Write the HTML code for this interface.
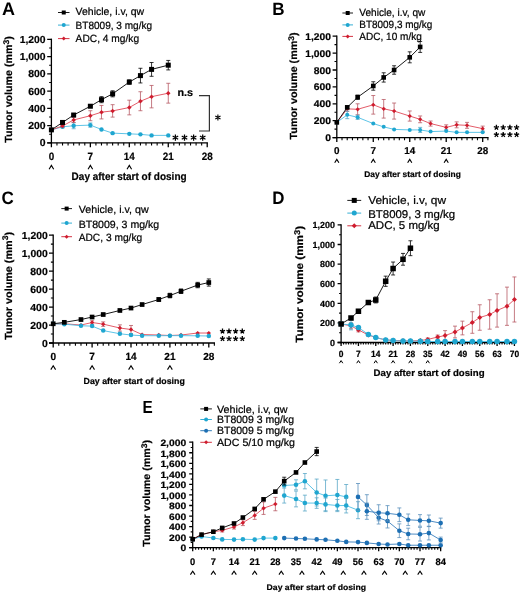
<!DOCTYPE html>
<html><head><meta charset="utf-8"><style>
html,body{margin:0;padding:0;background:#fff;width:520px;height:592px;overflow:hidden;}
svg{display:block;font-family:"Liberation Sans", sans-serif;filter:blur(0.4px);text-rendering:geometricPrecision;}
</style></head><body>
<svg width="520" height="592" viewBox="0 0 520 592" font-family='"Liberation Sans", sans-serif'>
<text x="2" y="14.6" font-size="18.3" font-weight="bold" textLength="13" lengthAdjust="spacingAndGlyphs">A</text>
<line x1="58" y1="12.5" x2="69.5" y2="12.5" stroke="#000000" stroke-width="0.9"/>
<rect x="61.75" y="10.5" width="4" height="4" fill="#000000"/>
<text x="75.6" y="15.3" font-size="10.5" textLength="68.5" lengthAdjust="spacingAndGlyphs" stroke="#000" stroke-width="0.22">Vehicle, i.v, qw</text>
<line x1="58" y1="25.1" x2="69.5" y2="25.1" stroke="#1fa6d0" stroke-width="0.9"/>
<circle cx="63.75" cy="25.1" r="2" fill="#1fa6d0"/>
<text x="75.6" y="28.5" font-size="10.5" textLength="76.5" lengthAdjust="spacingAndGlyphs" stroke="#000" stroke-width="0.22">BT8009, 3 mg/kg</text>
<line x1="58" y1="38.6" x2="69.5" y2="38.6" stroke="#cf1c2e" stroke-width="0.9"/>
<path d="M63.75 36.6L65.75 38.6L63.75 40.6L61.75 38.6Z" fill="#cf1c2e"/>
<text x="75.6" y="42.4" font-size="10.5" textLength="63.5" lengthAdjust="spacingAndGlyphs" stroke="#000" stroke-width="0.22">ADC, 4 mg/kg</text>
<line x1="51.4" y1="38.65" x2="51.4" y2="143.45" stroke="#000" stroke-width="1.3"/>
<line x1="47.2" y1="142.8" x2="207.87" y2="142.8" stroke="#000" stroke-width="1.3"/>
<path d="M47.2 142.8H51.4M47.2 125.55H51.4M47.2 108.3H51.4M47.2 91.05H51.4M47.2 73.8H51.4M47.2 56.55H51.4M47.2 39.3H51.4" stroke="#000" stroke-width="1.3"/>
<path d="M49.1 134.18H51.4M49.1 116.93H51.4M49.1 99.68H51.4M49.1 82.43H51.4M49.1 65.18H51.4M49.1 47.93H51.4M56.96 142.8V145.5M62.53 142.8V145.5M68.09 142.8V145.5M73.66 142.8V145.5M79.22 142.8V145.5M84.79 142.8V145.5M95.92 142.8V145.5M101.48 142.8V145.5M107.05 142.8V145.5M112.62 142.8V145.5M118.18 142.8V145.5M123.75 142.8V145.5M134.88 142.8V145.5M140.44 142.8V145.5M146 142.8V145.5M151.57 142.8V145.5M157.14 142.8V145.5M162.7 142.8V145.5M173.83 142.8V145.5M179.4 142.8V145.5M184.96 142.8V145.5M190.53 142.8V145.5M196.09 142.8V145.5M201.66 142.8V145.5" stroke="#000" stroke-width="1.1"/>
<path d="M51.4 142.8V147.3M90.36 142.8V147.3M129.31 142.8V147.3M168.27 142.8V147.3M207.22 142.8V147.3" stroke="#000" stroke-width="1.3"/>
<text x="45.6" y="146.4" font-size="10.2" font-weight="bold" text-anchor="end" textLength="5.8" lengthAdjust="spacingAndGlyphs" stroke="#000" stroke-width="0.2">0</text>
<text x="45.6" y="129.15" font-size="10.2" font-weight="bold" text-anchor="end" textLength="17.4" lengthAdjust="spacingAndGlyphs" stroke="#000" stroke-width="0.2">200</text>
<text x="45.6" y="111.9" font-size="10.2" font-weight="bold" text-anchor="end" textLength="17.4" lengthAdjust="spacingAndGlyphs" stroke="#000" stroke-width="0.2">400</text>
<text x="45.6" y="94.65" font-size="10.2" font-weight="bold" text-anchor="end" textLength="17.4" lengthAdjust="spacingAndGlyphs" stroke="#000" stroke-width="0.2">600</text>
<text x="45.6" y="77.4" font-size="10.2" font-weight="bold" text-anchor="end" textLength="17.4" lengthAdjust="spacingAndGlyphs" stroke="#000" stroke-width="0.2">800</text>
<text x="45.6" y="60.15" font-size="10.2" font-weight="bold" text-anchor="end" textLength="25.9" lengthAdjust="spacingAndGlyphs" stroke="#000" stroke-width="0.2">1,000</text>
<text x="45.6" y="42.9" font-size="10.2" font-weight="bold" text-anchor="end" textLength="25.9" lengthAdjust="spacingAndGlyphs" stroke="#000" stroke-width="0.2">1,200</text>
<text x="51.4" y="160.2" font-size="10.6" font-weight="bold" text-anchor="middle" textLength="5.5" lengthAdjust="spacingAndGlyphs" stroke="#000" stroke-width="0.2">0</text>
<text x="90.36" y="160.2" font-size="10.6" font-weight="bold" text-anchor="middle" textLength="5.5" lengthAdjust="spacingAndGlyphs" stroke="#000" stroke-width="0.2">7</text>
<text x="129.31" y="160.2" font-size="10.6" font-weight="bold" text-anchor="middle" textLength="11" lengthAdjust="spacingAndGlyphs" stroke="#000" stroke-width="0.2">14</text>
<text x="168.27" y="160.2" font-size="10.6" font-weight="bold" text-anchor="middle" textLength="11" lengthAdjust="spacingAndGlyphs" stroke="#000" stroke-width="0.2">21</text>
<text x="207.22" y="160.2" font-size="10.6" font-weight="bold" text-anchor="middle" textLength="11" lengthAdjust="spacingAndGlyphs" stroke="#000" stroke-width="0.2">28</text>
<polyline fill="none" stroke="#000" stroke-width="1.1" points="49.1,169.2 51.4,165.4 53.7,169.2" stroke-linejoin="miter"/>
<polyline fill="none" stroke="#000" stroke-width="1.1" points="88.06,169.2 90.36,165.4 92.66,169.2" stroke-linejoin="miter"/>
<polyline fill="none" stroke="#000" stroke-width="1.1" points="127.01,169.2 129.31,165.4 131.61,169.2" stroke-linejoin="miter"/>
<text x="71.6" y="180.3" font-size="10.8" font-weight="bold" textLength="115" lengthAdjust="spacingAndGlyphs" stroke="#000" stroke-width="0.2">Day after start of dosing</text>
<text x="12.2" y="142.7" font-size="10.3" font-weight="bold" textLength="106.5" lengthAdjust="spacingAndGlyphs" stroke="#000" stroke-width="0.2" transform="rotate(-90 12.2 142.7)">Tumor volume (mm<tspan font-size="8.24" dy="-3.4">3</tspan><tspan dy="3.4">)</tspan></text>
<polyline fill="none" stroke="#4cbde4" stroke-width="0.9" points="51.4,129.86 62.53,126.84 73.66,125.72 90.36,125.12 101.48,129.43 112.62,133.14 129.31,133.83 140.44,134.35 151.57,135.38 168.27,135.38"/>
<path d="M62.53 125.98V127.71M60.53 125.98H64.53M60.53 127.71H64.53" stroke="#5aa8c8" stroke-width="0.8" fill="none"/>
<path d="M73.66 122.7V128.74M71.66 122.7H75.66M71.66 128.74H75.66" stroke="#5aa8c8" stroke-width="0.8" fill="none"/>
<path d="M90.36 122.96V127.28M88.36 122.96H92.36M88.36 127.28H92.36" stroke="#5aa8c8" stroke-width="0.8" fill="none"/>
<circle cx="51.4" cy="129.86" r="2.2" fill="#1fa6d0"/>
<circle cx="62.53" cy="126.84" r="2.2" fill="#1fa6d0"/>
<circle cx="73.66" cy="125.72" r="2.2" fill="#1fa6d0"/>
<circle cx="90.36" cy="125.12" r="2.2" fill="#1fa6d0"/>
<circle cx="101.48" cy="129.43" r="2.2" fill="#1fa6d0"/>
<circle cx="112.62" cy="133.14" r="2.2" fill="#1fa6d0"/>
<circle cx="129.31" cy="133.83" r="2.2" fill="#1fa6d0"/>
<circle cx="140.44" cy="134.35" r="2.2" fill="#1fa6d0"/>
<circle cx="151.57" cy="135.38" r="2.2" fill="#1fa6d0"/>
<circle cx="168.27" cy="135.38" r="2.2" fill="#1fa6d0"/>
<polyline fill="none" stroke="#e04a58" stroke-width="0.9" points="51.4,129.86 62.53,125.98 73.66,119.94 90.36,115.72 101.48,112.18 112.62,110.89 129.31,107.52 140.44,101.23 151.57,96.66 168.27,93.21"/>
<path d="M62.53 125.12V126.84M60.53 125.12H64.53M60.53 126.84H64.53" stroke="#b85a64" stroke-width="0.8" fill="none"/>
<path d="M73.66 117.36V122.53M71.66 117.36H75.66M71.66 122.53H75.66" stroke="#b85a64" stroke-width="0.8" fill="none"/>
<path d="M90.36 110.72V120.72M88.36 110.72H92.36M88.36 120.72H92.36" stroke="#b85a64" stroke-width="0.8" fill="none"/>
<path d="M101.48 105.45V118.91M99.48 105.45H103.48M99.48 118.91H103.48" stroke="#b85a64" stroke-width="0.8" fill="none"/>
<path d="M112.62 104.68V117.1M110.62 104.68H114.62M110.62 117.1H114.62" stroke="#b85a64" stroke-width="0.8" fill="none"/>
<path d="M129.31 100.19V114.86M127.31 100.19H131.31M127.31 114.86H131.31" stroke="#b85a64" stroke-width="0.8" fill="none"/>
<path d="M140.44 91.74V110.72M138.44 91.74H142.44M138.44 110.72H142.44" stroke="#b85a64" stroke-width="0.8" fill="none"/>
<path d="M151.57 85.44V107.87M149.57 85.44H153.57M149.57 107.87H153.57" stroke="#b85a64" stroke-width="0.8" fill="none"/>
<path d="M168.27 83.29V103.13M166.27 83.29H170.27M166.27 103.13H170.27" stroke="#b85a64" stroke-width="0.8" fill="none"/>
<path d="M51.4 127.61L53.65 129.86L51.4 132.11L49.15 129.86Z" fill="#cf1c2e"/>
<path d="M62.53 123.73L64.78 125.98L62.53 128.23L60.28 125.98Z" fill="#cf1c2e"/>
<path d="M73.66 117.69L75.91 119.94L73.66 122.19L71.41 119.94Z" fill="#cf1c2e"/>
<path d="M90.36 113.47L92.61 115.72L90.36 117.97L88.11 115.72Z" fill="#cf1c2e"/>
<path d="M101.48 109.93L103.73 112.18L101.48 114.43L99.23 112.18Z" fill="#cf1c2e"/>
<path d="M112.62 108.64L114.87 110.89L112.62 113.14L110.37 110.89Z" fill="#cf1c2e"/>
<path d="M129.31 105.27L131.56 107.52L129.31 109.77L127.06 107.52Z" fill="#cf1c2e"/>
<path d="M140.44 98.98L142.69 101.23L140.44 103.48L138.19 101.23Z" fill="#cf1c2e"/>
<path d="M151.57 94.41L153.82 96.66L151.57 98.91L149.32 96.66Z" fill="#cf1c2e"/>
<path d="M168.27 90.96L170.52 93.21L168.27 95.46L166.02 93.21Z" fill="#cf1c2e"/>
<polyline fill="none" stroke="#000000" stroke-width="0.9" points="51.4,129.86 62.53,122.45 73.66,115.03 90.36,106.23 101.48,99.68 112.62,93.81 129.31,82.08 140.44,75.61 151.57,69.4 168.27,65.18"/>
<path d="M73.66 114.17V115.89M71.66 114.17H75.66M71.66 115.89H75.66" stroke="#000000" stroke-width="0.8" fill="none"/>
<path d="M90.36 105.37V107.09M88.36 105.37H92.36M88.36 107.09H92.36" stroke="#000000" stroke-width="0.8" fill="none"/>
<path d="M101.48 96.66V102.69M99.48 96.66H103.48M99.48 102.69H103.48" stroke="#000000" stroke-width="0.8" fill="none"/>
<path d="M112.62 90.79V96.83M110.62 90.79H114.62M110.62 96.83H114.62" stroke="#000000" stroke-width="0.8" fill="none"/>
<path d="M129.31 79.92V84.24M127.31 79.92H131.31M127.31 84.24H131.31" stroke="#000000" stroke-width="0.8" fill="none"/>
<path d="M140.44 68.28V82.94M138.44 68.28H142.44M138.44 82.94H142.44" stroke="#000000" stroke-width="0.8" fill="none"/>
<path d="M151.57 62.5V76.3M149.57 62.5H153.57M149.57 76.3H153.57" stroke="#000000" stroke-width="0.8" fill="none"/>
<path d="M168.27 60.43V69.92M166.27 60.43H170.27M166.27 69.92H170.27" stroke="#000000" stroke-width="0.8" fill="none"/>
<rect x="48.9" y="127.36" width="5" height="5" fill="#000000"/>
<rect x="60.03" y="119.95" width="5" height="5" fill="#000000"/>
<rect x="71.16" y="112.53" width="5" height="5" fill="#000000"/>
<rect x="87.86" y="103.73" width="5" height="5" fill="#000000"/>
<rect x="98.98" y="97.18" width="5" height="5" fill="#000000"/>
<rect x="110.12" y="91.31" width="5" height="5" fill="#000000"/>
<rect x="126.81" y="79.58" width="5" height="5" fill="#000000"/>
<rect x="137.94" y="73.11" width="5" height="5" fill="#000000"/>
<rect x="149.07" y="66.9" width="5" height="5" fill="#000000"/>
<rect x="165.77" y="62.68" width="5" height="5" fill="#000000"/>
<text x="177.4" y="95.8" font-size="10.6" font-weight="bold" textLength="15.6" lengthAdjust="spacingAndGlyphs" stroke="#000" stroke-width="0.2">n.s</text>
<polyline fill="none" stroke="#333" stroke-width="1.2" points="199,95.6 209.4,95.6 209.4,131 199,131"/>
<path d="M217.9 114.5V120.5M215.3 116L220.5 119M215.3 119L220.5 116" stroke="#000" stroke-width="1.1" fill="none"/>
<path d="M175.4 134.4V140.8M172.63 136L178.17 139.2M172.63 139.2L178.17 136" stroke="#000" stroke-width="1.25" fill="none"/>
<path d="M184.5 134.4V140.8M181.73 136L187.27 139.2M181.73 139.2L187.27 136" stroke="#000" stroke-width="1.25" fill="none"/>
<path d="M193.6 134.4V140.8M190.83 136L196.37 139.2M190.83 139.2L196.37 136" stroke="#000" stroke-width="1.25" fill="none"/>
<path d="M202.7 134.4V140.8M199.93 136L205.47 139.2M199.93 139.2L205.47 136" stroke="#000" stroke-width="1.25" fill="none"/>
<text x="272.2" y="14.6" font-size="17.8" font-weight="bold" textLength="12.3" lengthAdjust="spacingAndGlyphs">B</text>
<line x1="342.4" y1="13" x2="353" y2="13" stroke="#000000" stroke-width="0.9"/>
<rect x="345.7" y="11" width="4" height="4" fill="#000000"/>
<text x="359.3" y="16.2" font-size="10.5" textLength="66" lengthAdjust="spacingAndGlyphs" stroke="#000" stroke-width="0.22">Vehicle, i.v, qw</text>
<line x1="342.4" y1="24.9" x2="353" y2="24.9" stroke="#1fa6d0" stroke-width="0.9"/>
<circle cx="347.7" cy="24.9" r="2" fill="#1fa6d0"/>
<text x="359.3" y="28.3" font-size="10.5" textLength="73" lengthAdjust="spacingAndGlyphs" stroke="#000" stroke-width="0.22">BT8009,3 mg/kg</text>
<line x1="342.4" y1="36.4" x2="353" y2="36.4" stroke="#cf1c2e" stroke-width="0.9"/>
<path d="M347.7 34.4L349.7 36.4L347.7 38.4L345.7 36.4Z" fill="#cf1c2e"/>
<text x="359.3" y="40" font-size="10.5" textLength="62.5" lengthAdjust="spacingAndGlyphs" stroke="#000" stroke-width="0.22">ADC, 10 m/kg</text>
<line x1="336.8" y1="35.55" x2="336.8" y2="138.25" stroke="#000" stroke-width="1.3"/>
<line x1="332.6" y1="137.6" x2="488.54" y2="137.6" stroke="#000" stroke-width="1.3"/>
<path d="M332.6 137.6H336.8M332.6 120.7H336.8M332.6 103.8H336.8M332.6 86.9H336.8M332.6 70H336.8M332.6 53.1H336.8M332.6 36.2H336.8" stroke="#000" stroke-width="1.3"/>
<path d="M334.5 129.15H336.8M334.5 112.25H336.8M334.5 95.35H336.8M334.5 78.45H336.8M334.5 61.55H336.8M334.5 44.65H336.8M342.01 137.6V140.2M347.22 137.6V140.2M352.43 137.6V140.2M357.64 137.6V140.2M362.85 137.6V140.2M368.06 137.6V140.2M378.48 137.6V140.2M383.69 137.6V140.2M388.9 137.6V140.2M394.11 137.6V140.2M399.32 137.6V140.2M404.53 137.6V140.2M414.95 137.6V140.2M420.16 137.6V140.2M425.37 137.6V140.2M430.58 137.6V140.2M435.79 137.6V140.2M441 137.6V140.2M451.42 137.6V140.2M456.63 137.6V140.2M461.84 137.6V140.2M467.05 137.6V140.2M472.26 137.6V140.2M477.47 137.6V140.2M487.89 137.6V140.2" stroke="#000" stroke-width="1.1"/>
<path d="M336.8 137.6V141.9M373.27 137.6V141.9M409.74 137.6V141.9M446.21 137.6V141.9M482.68 137.6V141.9" stroke="#000" stroke-width="1.3"/>
<text x="331" y="141.1" font-size="9.8" font-weight="bold" text-anchor="end" textLength="5.75" lengthAdjust="spacingAndGlyphs" stroke="#000" stroke-width="0.2">0</text>
<text x="331" y="124.2" font-size="9.8" font-weight="bold" text-anchor="end" textLength="17.25" lengthAdjust="spacingAndGlyphs" stroke="#000" stroke-width="0.2">200</text>
<text x="331" y="107.3" font-size="9.8" font-weight="bold" text-anchor="end" textLength="17.25" lengthAdjust="spacingAndGlyphs" stroke="#000" stroke-width="0.2">400</text>
<text x="331" y="90.4" font-size="9.8" font-weight="bold" text-anchor="end" textLength="17.25" lengthAdjust="spacingAndGlyphs" stroke="#000" stroke-width="0.2">600</text>
<text x="331" y="73.5" font-size="9.8" font-weight="bold" text-anchor="end" textLength="17.25" lengthAdjust="spacingAndGlyphs" stroke="#000" stroke-width="0.2">800</text>
<text x="331" y="56.6" font-size="9.8" font-weight="bold" text-anchor="end" textLength="25.7" lengthAdjust="spacingAndGlyphs" stroke="#000" stroke-width="0.2">1,000</text>
<text x="331" y="39.7" font-size="9.8" font-weight="bold" text-anchor="end" textLength="25.7" lengthAdjust="spacingAndGlyphs" stroke="#000" stroke-width="0.2">1,200</text>
<text x="336.8" y="154.3" font-size="10" font-weight="bold" text-anchor="middle" textLength="5.5" lengthAdjust="spacingAndGlyphs" stroke="#000" stroke-width="0.2">0</text>
<text x="373.27" y="154.3" font-size="10" font-weight="bold" text-anchor="middle" textLength="5.5" lengthAdjust="spacingAndGlyphs" stroke="#000" stroke-width="0.2">7</text>
<text x="409.74" y="154.3" font-size="10" font-weight="bold" text-anchor="middle" textLength="11" lengthAdjust="spacingAndGlyphs" stroke="#000" stroke-width="0.2">14</text>
<text x="446.21" y="154.3" font-size="10" font-weight="bold" text-anchor="middle" textLength="11" lengthAdjust="spacingAndGlyphs" stroke="#000" stroke-width="0.2">21</text>
<text x="482.68" y="154.3" font-size="10" font-weight="bold" text-anchor="middle" textLength="11" lengthAdjust="spacingAndGlyphs" stroke="#000" stroke-width="0.2">28</text>
<polyline fill="none" stroke="#000" stroke-width="1.1" points="334.7,162.8 336.8,159.4 338.9,162.8" stroke-linejoin="miter"/>
<polyline fill="none" stroke="#000" stroke-width="1.1" points="371.17,162.8 373.27,159.4 375.37,162.8" stroke-linejoin="miter"/>
<polyline fill="none" stroke="#000" stroke-width="1.1" points="407.64,162.8 409.74,159.4 411.84,162.8" stroke-linejoin="miter"/>
<polyline fill="none" stroke="#000" stroke-width="1.1" points="444.11,162.8 446.21,159.4 448.31,162.8" stroke-linejoin="miter"/>
<text x="364.3" y="176.5" font-size="8.4" font-weight="bold" textLength="96.5" lengthAdjust="spacingAndGlyphs" stroke="#000" stroke-width="0.2">Day after start of dosing</text>
<text x="297.5" y="139.4" font-size="10.3" font-weight="bold" textLength="107" lengthAdjust="spacingAndGlyphs" stroke="#000" stroke-width="0.2" transform="rotate(-90 297.5 139.4)">Tumor volume (mm<tspan font-size="8.24" dy="-3.4">3</tspan><tspan dy="3.4">)</tspan></text>
<polyline fill="none" stroke="#e04a58" stroke-width="0.9" points="336.8,122.39 347.22,108.87 357.64,109.29 373.27,104.81 383.69,108.79 394.11,111.07 409.74,116.05 420.16,119.35 430.58,123.57 446.21,127.38 456.63,124.84 467.05,125.35 482.68,128.64"/>
<path d="M347.22 106.34V111.41M345.22 106.34H349.22M345.22 111.41H349.22" stroke="#b85a64" stroke-width="0.8" fill="none"/>
<path d="M357.64 103.8V114.78M355.64 103.8H359.64M355.64 114.78H359.64" stroke="#b85a64" stroke-width="0.8" fill="none"/>
<path d="M373.27 95.52V114.11M371.27 95.52H375.27M371.27 114.11H375.27" stroke="#b85a64" stroke-width="0.8" fill="none"/>
<path d="M383.69 99.49V118.08M381.69 99.49H385.69M381.69 118.08H385.69" stroke="#b85a64" stroke-width="0.8" fill="none"/>
<path d="M394.11 103.04V119.09M392.11 103.04H396.11M392.11 119.09H396.11" stroke="#b85a64" stroke-width="0.8" fill="none"/>
<path d="M409.74 110.98V121.12M407.74 110.98H411.74M407.74 121.12H411.74" stroke="#b85a64" stroke-width="0.8" fill="none"/>
<path d="M420.16 115.97V122.73M418.16 115.97H422.16M418.16 122.73H422.16" stroke="#b85a64" stroke-width="0.8" fill="none"/>
<path d="M430.58 121.04V126.11M428.58 121.04H432.58M428.58 126.11H432.58" stroke="#b85a64" stroke-width="0.8" fill="none"/>
<path d="M446.21 124.84V129.91M444.21 124.84H448.21M444.21 129.91H448.21" stroke="#b85a64" stroke-width="0.8" fill="none"/>
<path d="M456.63 121.88V127.8M454.63 121.88H458.63M454.63 127.8H458.63" stroke="#b85a64" stroke-width="0.8" fill="none"/>
<path d="M467.05 122.39V128.31M465.05 122.39H469.05M465.05 128.31H469.05" stroke="#b85a64" stroke-width="0.8" fill="none"/>
<path d="M482.68 126.11V131.18M480.68 126.11H484.68M480.68 131.18H484.68" stroke="#b85a64" stroke-width="0.8" fill="none"/>
<path d="M336.8 120.29L338.9 122.39L336.8 124.49L334.7 122.39Z" fill="#cf1c2e"/>
<path d="M347.22 106.77L349.32 108.87L347.22 110.97L345.12 108.87Z" fill="#cf1c2e"/>
<path d="M357.64 107.19L359.74 109.29L357.64 111.39L355.54 109.29Z" fill="#cf1c2e"/>
<path d="M373.27 102.71L375.37 104.81L373.27 106.91L371.17 104.81Z" fill="#cf1c2e"/>
<path d="M383.69 106.69L385.79 108.79L383.69 110.89L381.59 108.79Z" fill="#cf1c2e"/>
<path d="M394.11 108.97L396.21 111.07L394.11 113.17L392.01 111.07Z" fill="#cf1c2e"/>
<path d="M409.74 113.95L411.84 116.05L409.74 118.15L407.64 116.05Z" fill="#cf1c2e"/>
<path d="M420.16 117.25L422.26 119.35L420.16 121.45L418.06 119.35Z" fill="#cf1c2e"/>
<path d="M430.58 121.47L432.68 123.57L430.58 125.67L428.48 123.57Z" fill="#cf1c2e"/>
<path d="M446.21 125.28L448.31 127.38L446.21 129.48L444.11 127.38Z" fill="#cf1c2e"/>
<path d="M456.63 122.74L458.73 124.84L456.63 126.94L454.53 124.84Z" fill="#cf1c2e"/>
<path d="M467.05 123.25L469.15 125.35L467.05 127.45L464.95 125.35Z" fill="#cf1c2e"/>
<path d="M482.68 126.54L484.78 128.64L482.68 130.74L480.58 128.64Z" fill="#cf1c2e"/>
<polyline fill="none" stroke="#4cbde4" stroke-width="0.9" points="336.8,122.39 347.22,114.87 357.64,117.32 373.27,123.57 383.69,126.87 394.11,129.4 409.74,129.91 420.16,129.91 430.58,131.6 446.21,131.09 456.63,132.36 467.05,132.36 482.68,132.36"/>
<path d="M347.22 111.07V118.67M345.22 111.07H349.22M345.22 118.67H349.22" stroke="#5aa8c8" stroke-width="0.8" fill="none"/>
<path d="M357.64 115.21V119.43M355.64 115.21H359.64M355.64 119.43H359.64" stroke="#5aa8c8" stroke-width="0.8" fill="none"/>
<path d="M420.16 127.38V132.45M418.16 127.38H422.16M418.16 132.45H422.16" stroke="#5aa8c8" stroke-width="0.8" fill="none"/>
<circle cx="336.8" cy="122.39" r="2" fill="#1fa6d0"/>
<circle cx="347.22" cy="114.87" r="2" fill="#1fa6d0"/>
<circle cx="357.64" cy="117.32" r="2" fill="#1fa6d0"/>
<circle cx="373.27" cy="123.57" r="2" fill="#1fa6d0"/>
<circle cx="383.69" cy="126.87" r="2" fill="#1fa6d0"/>
<circle cx="394.11" cy="129.4" r="2" fill="#1fa6d0"/>
<circle cx="409.74" cy="129.91" r="2" fill="#1fa6d0"/>
<circle cx="420.16" cy="129.91" r="2" fill="#1fa6d0"/>
<circle cx="430.58" cy="131.6" r="2" fill="#1fa6d0"/>
<circle cx="446.21" cy="131.09" r="2" fill="#1fa6d0"/>
<circle cx="456.63" cy="132.36" r="2" fill="#1fa6d0"/>
<circle cx="467.05" cy="132.36" r="2" fill="#1fa6d0"/>
<circle cx="482.68" cy="132.36" r="2" fill="#1fa6d0"/>
<polyline fill="none" stroke="#000000" stroke-width="0.9" points="336.8,122.39 347.22,107.35 357.64,97.21 373.27,85.97 383.69,77.44 394.11,70 409.74,57.33 420.16,46.93"/>
<path d="M347.22 106.08V108.62M345.22 106.08H349.22M345.22 108.62H349.22" stroke="#000000" stroke-width="0.8" fill="none"/>
<path d="M357.64 95.1V99.32M355.64 95.1H359.64M355.64 99.32H359.64" stroke="#000000" stroke-width="0.8" fill="none"/>
<path d="M373.27 81.75V90.2M371.27 81.75H375.27M371.27 90.2H375.27" stroke="#000000" stroke-width="0.8" fill="none"/>
<path d="M383.69 72.79V82.08M381.69 72.79H385.69M381.69 82.08H385.69" stroke="#000000" stroke-width="0.8" fill="none"/>
<path d="M394.11 65.78V74.22M392.11 65.78H396.11M392.11 74.22H396.11" stroke="#000000" stroke-width="0.8" fill="none"/>
<path d="M409.74 51.83V62.82M407.74 51.83H411.74M407.74 62.82H411.74" stroke="#000000" stroke-width="0.8" fill="none"/>
<path d="M420.16 41.44V52.42M418.16 41.44H422.16M418.16 52.42H422.16" stroke="#000000" stroke-width="0.8" fill="none"/>
<rect x="334.5" y="120.09" width="4.6" height="4.6" fill="#000000"/>
<rect x="344.92" y="105.05" width="4.6" height="4.6" fill="#000000"/>
<rect x="355.34" y="94.91" width="4.6" height="4.6" fill="#000000"/>
<rect x="370.97" y="83.67" width="4.6" height="4.6" fill="#000000"/>
<rect x="381.39" y="75.14" width="4.6" height="4.6" fill="#000000"/>
<rect x="391.81" y="67.7" width="4.6" height="4.6" fill="#000000"/>
<rect x="407.44" y="55.03" width="4.6" height="4.6" fill="#000000"/>
<rect x="417.86" y="44.63" width="4.6" height="4.6" fill="#000000"/>
<path d="M496.4 127.5L496.4 124.8M496.4 127.5L498.97 126.67M496.4 127.5L497.99 129.68M496.4 127.5L494.81 129.68M496.4 127.5L493.83 126.67" stroke="#000" stroke-width="1.3" fill="none" stroke-linecap="butt"/>
<path d="M503.2 127.5L503.2 124.8M503.2 127.5L505.77 126.67M503.2 127.5L504.79 129.68M503.2 127.5L501.61 129.68M503.2 127.5L500.63 126.67" stroke="#000" stroke-width="1.3" fill="none" stroke-linecap="butt"/>
<path d="M509.9 127.5L509.9 124.8M509.9 127.5L512.47 126.67M509.9 127.5L511.49 129.68M509.9 127.5L508.31 129.68M509.9 127.5L507.33 126.67" stroke="#000" stroke-width="1.3" fill="none" stroke-linecap="butt"/>
<path d="M516.6 127.5L516.6 124.8M516.6 127.5L519.17 126.67M516.6 127.5L518.19 129.68M516.6 127.5L515.01 129.68M516.6 127.5L514.03 126.67" stroke="#000" stroke-width="1.3" fill="none" stroke-linecap="butt"/>
<path d="M496.4 134.7L496.4 132M496.4 134.7L498.97 133.87M496.4 134.7L497.99 136.88M496.4 134.7L494.81 136.88M496.4 134.7L493.83 133.87" stroke="#000" stroke-width="1.3" fill="none" stroke-linecap="butt"/>
<path d="M503.2 134.7L503.2 132M503.2 134.7L505.77 133.87M503.2 134.7L504.79 136.88M503.2 134.7L501.61 136.88M503.2 134.7L500.63 133.87" stroke="#000" stroke-width="1.3" fill="none" stroke-linecap="butt"/>
<path d="M509.9 134.7L509.9 132M509.9 134.7L512.47 133.87M509.9 134.7L511.49 136.88M509.9 134.7L508.31 136.88M509.9 134.7L507.33 133.87" stroke="#000" stroke-width="1.3" fill="none" stroke-linecap="butt"/>
<path d="M516.6 134.7L516.6 132M516.6 134.7L519.17 133.87M516.6 134.7L518.19 136.88M516.6 134.7L515.01 136.88M516.6 134.7L514.03 133.87" stroke="#000" stroke-width="1.3" fill="none" stroke-linecap="butt"/>
<text x="1.6" y="204.2" font-size="18" font-weight="bold" textLength="12.3" lengthAdjust="spacingAndGlyphs">C</text>
<line x1="61.3" y1="208.6" x2="72" y2="208.6" stroke="#000000" stroke-width="0.9"/>
<rect x="64.65" y="206.6" width="4" height="4" fill="#000000"/>
<text x="78.7" y="212.8" font-size="10.5" textLength="70" lengthAdjust="spacingAndGlyphs" stroke="#000" stroke-width="0.22">Vehicle, i.v, qw</text>
<line x1="61.3" y1="223.1" x2="72" y2="223.1" stroke="#1fa6d0" stroke-width="0.9"/>
<circle cx="66.65" cy="223.1" r="2" fill="#1fa6d0"/>
<text x="78.7" y="227.7" font-size="10.5" textLength="80.5" lengthAdjust="spacingAndGlyphs" stroke="#000" stroke-width="0.22">BT8009, 3 mg/kg</text>
<line x1="61.3" y1="236.7" x2="72" y2="236.7" stroke="#cf1c2e" stroke-width="0.9"/>
<path d="M66.65 234.7L68.65 236.7L66.65 238.7L64.65 236.7Z" fill="#cf1c2e"/>
<text x="78.7" y="241.4" font-size="10.5" textLength="63.5" lengthAdjust="spacingAndGlyphs" stroke="#000" stroke-width="0.22">ADC, 3 mg/kg</text>
<line x1="53.2" y1="234.53" x2="53.2" y2="343.65" stroke="#000" stroke-width="1.3"/>
<line x1="49" y1="343" x2="215" y2="343" stroke="#000" stroke-width="1.3"/>
<path d="M49 343H53.2M49 325.03H53.2M49 307.06H53.2M49 289.09H53.2M49 271.12H53.2M49 253.15H53.2M49 235.18H53.2" stroke="#000" stroke-width="1.3"/>
<path d="M50.9 334.01H53.2M50.9 316.05H53.2M50.9 298.07H53.2M50.9 280.11H53.2M50.9 262.13H53.2M50.9 244.17H53.2M58.76 343V345.7M64.31 343V345.7M69.87 343V345.7M75.43 343V345.7M80.99 343V345.7M86.54 343V345.7M97.66 343V345.7M103.21 343V345.7M108.77 343V345.7M114.33 343V345.7M119.88 343V345.7M125.44 343V345.7M136.56 343V345.7M142.11 343V345.7M147.67 343V345.7M153.23 343V345.7M158.78 343V345.7M164.34 343V345.7M175.45 343V345.7M181.01 343V345.7M186.57 343V345.7M192.12 343V345.7M197.68 343V345.7M203.24 343V345.7M214.35 343V345.7" stroke="#000" stroke-width="1.1"/>
<path d="M53.2 343V347.5M92.1 343V347.5M131 343V347.5M169.9 343V347.5M208.8 343V347.5" stroke="#000" stroke-width="1.3"/>
<text x="47.7" y="346.6" font-size="10.2" font-weight="bold" text-anchor="end" textLength="5.8" lengthAdjust="spacingAndGlyphs" stroke="#000" stroke-width="0.2">0</text>
<text x="47.7" y="328.63" font-size="10.2" font-weight="bold" text-anchor="end" textLength="17.4" lengthAdjust="spacingAndGlyphs" stroke="#000" stroke-width="0.2">200</text>
<text x="47.7" y="310.66" font-size="10.2" font-weight="bold" text-anchor="end" textLength="17.4" lengthAdjust="spacingAndGlyphs" stroke="#000" stroke-width="0.2">400</text>
<text x="47.7" y="292.69" font-size="10.2" font-weight="bold" text-anchor="end" textLength="17.4" lengthAdjust="spacingAndGlyphs" stroke="#000" stroke-width="0.2">600</text>
<text x="47.7" y="274.72" font-size="10.2" font-weight="bold" text-anchor="end" textLength="17.4" lengthAdjust="spacingAndGlyphs" stroke="#000" stroke-width="0.2">800</text>
<text x="47.7" y="256.75" font-size="10.2" font-weight="bold" text-anchor="end" textLength="25.9" lengthAdjust="spacingAndGlyphs" stroke="#000" stroke-width="0.2">1,000</text>
<text x="47.7" y="238.78" font-size="10.2" font-weight="bold" text-anchor="end" textLength="25.9" lengthAdjust="spacingAndGlyphs" stroke="#000" stroke-width="0.2">1,200</text>
<text x="53.2" y="360.3" font-size="10.4" font-weight="bold" text-anchor="middle" textLength="5.6" lengthAdjust="spacingAndGlyphs" stroke="#000" stroke-width="0.2">0</text>
<text x="92.1" y="360.3" font-size="10.4" font-weight="bold" text-anchor="middle" textLength="5.6" lengthAdjust="spacingAndGlyphs" stroke="#000" stroke-width="0.2">7</text>
<text x="131" y="360.3" font-size="10.4" font-weight="bold" text-anchor="middle" textLength="11.2" lengthAdjust="spacingAndGlyphs" stroke="#000" stroke-width="0.2">14</text>
<text x="169.9" y="360.3" font-size="10.4" font-weight="bold" text-anchor="middle" textLength="11.2" lengthAdjust="spacingAndGlyphs" stroke="#000" stroke-width="0.2">21</text>
<text x="208.8" y="360.3" font-size="10.4" font-weight="bold" text-anchor="middle" textLength="11.2" lengthAdjust="spacingAndGlyphs" stroke="#000" stroke-width="0.2">28</text>
<polyline fill="none" stroke="#000" stroke-width="1.1" points="50.8,369.6 53.2,365.8 55.6,369.6" stroke-linejoin="miter"/>
<polyline fill="none" stroke="#000" stroke-width="1.1" points="89.7,369.6 92.1,365.8 94.5,369.6" stroke-linejoin="miter"/>
<polyline fill="none" stroke="#000" stroke-width="1.1" points="128.6,369.6 131,365.8 133.4,369.6" stroke-linejoin="miter"/>
<polyline fill="none" stroke="#000" stroke-width="1.1" points="167.5,369.6 169.9,365.8 172.3,369.6" stroke-linejoin="miter"/>
<text x="83.6" y="384.3" font-size="8.8" font-weight="bold" textLength="101.2" lengthAdjust="spacingAndGlyphs" stroke="#000" stroke-width="0.2">Day after start of dosing</text>
<text x="11.9" y="339.7" font-size="10.3" font-weight="bold" textLength="107.8" lengthAdjust="spacingAndGlyphs" stroke="#000" stroke-width="0.2" transform="rotate(-90 11.9 339.7)">Tumor volume (mm<tspan font-size="8.24" dy="-3.4">3</tspan><tspan dy="3.4">)</tspan></text>
<polyline fill="none" stroke="#e04a58" stroke-width="0.9" points="53.2,323.77 64.31,323.77 80.99,325.03 92.1,322.51 103.21,324.13 119.88,328 131,329.52 142.11,334.55 158.78,335 169.9,335.54 181.01,335 197.68,333.03 208.8,333.03"/>
<path d="M92.1 320.72V324.31M90.1 320.72H94.1M90.1 324.31H94.1" stroke="#b85a64" stroke-width="0.8" fill="none"/>
<path d="M103.21 321.89V326.38M101.21 321.89H105.21M101.21 326.38H105.21" stroke="#b85a64" stroke-width="0.8" fill="none"/>
<path d="M119.88 324.85V331.14M117.88 324.85H121.88M117.88 331.14H121.88" stroke="#b85a64" stroke-width="0.8" fill="none"/>
<path d="M131 325.48V333.57M129 325.48H133M129 333.57H133" stroke="#b85a64" stroke-width="0.8" fill="none"/>
<path d="M53.2 321.62L55.35 323.77L53.2 325.92L51.05 323.77Z" fill="#cf1c2e"/>
<path d="M64.31 321.62L66.46 323.77L64.31 325.92L62.16 323.77Z" fill="#cf1c2e"/>
<path d="M80.99 322.88L83.14 325.03L80.99 327.18L78.84 325.03Z" fill="#cf1c2e"/>
<path d="M92.1 320.36L94.25 322.51L92.1 324.66L89.95 322.51Z" fill="#cf1c2e"/>
<path d="M103.21 321.98L105.36 324.13L103.21 326.28L101.06 324.13Z" fill="#cf1c2e"/>
<path d="M119.88 325.85L122.03 328L119.88 330.15L117.73 328Z" fill="#cf1c2e"/>
<path d="M131 327.37L133.15 329.52L131 331.67L128.85 329.52Z" fill="#cf1c2e"/>
<path d="M142.11 332.4L144.26 334.55L142.11 336.7L139.96 334.55Z" fill="#cf1c2e"/>
<path d="M158.78 332.85L160.93 335L158.78 337.15L156.63 335Z" fill="#cf1c2e"/>
<path d="M169.9 333.39L172.05 335.54L169.9 337.69L167.75 335.54Z" fill="#cf1c2e"/>
<path d="M181.01 332.85L183.16 335L181.01 337.15L178.86 335Z" fill="#cf1c2e"/>
<path d="M197.68 330.88L199.83 333.03L197.68 335.18L195.53 333.03Z" fill="#cf1c2e"/>
<path d="M208.8 330.88L210.95 333.03L208.8 335.18L206.65 333.03Z" fill="#cf1c2e"/>
<polyline fill="none" stroke="#4cbde4" stroke-width="0.9" points="53.2,323.77 64.31,324.13 80.99,325.75 92.1,326.11 103.21,330.6 119.88,333.75 131,335 142.11,335.72 158.78,335.72 169.9,335.63 181.01,335.63 197.68,335.81 208.8,335.99"/>
<circle cx="53.2" cy="323.77" r="2.25" fill="#1fa6d0"/>
<circle cx="64.31" cy="324.13" r="2.25" fill="#1fa6d0"/>
<circle cx="80.99" cy="325.75" r="2.25" fill="#1fa6d0"/>
<circle cx="92.1" cy="326.11" r="2.25" fill="#1fa6d0"/>
<circle cx="103.21" cy="330.6" r="2.25" fill="#1fa6d0"/>
<circle cx="119.88" cy="333.75" r="2.25" fill="#1fa6d0"/>
<circle cx="131" cy="335" r="2.25" fill="#1fa6d0"/>
<circle cx="142.11" cy="335.72" r="2.25" fill="#1fa6d0"/>
<circle cx="158.78" cy="335.72" r="2.25" fill="#1fa6d0"/>
<circle cx="169.9" cy="335.63" r="2.25" fill="#1fa6d0"/>
<circle cx="181.01" cy="335.63" r="2.25" fill="#1fa6d0"/>
<circle cx="197.68" cy="335.81" r="2.25" fill="#1fa6d0"/>
<circle cx="208.8" cy="335.99" r="2.25" fill="#1fa6d0"/>
<polyline fill="none" stroke="#000000" stroke-width="0.9" points="53.2,323.77 64.31,322.33 80.99,319.55 92.1,317.03 103.21,314.52 119.88,310.47 131,308.05 142.11,304.54 158.78,299.51 169.9,295.56 181.01,291.25 197.68,285.05 208.8,282.53"/>
<path d="M158.78 297.72V301.31M156.78 297.72H160.78M156.78 301.31H160.78" stroke="#000000" stroke-width="0.8" fill="none"/>
<path d="M169.9 293.31V297.81M167.9 293.31H171.9M167.9 297.81H171.9" stroke="#000000" stroke-width="0.8" fill="none"/>
<path d="M181.01 289V293.49M179.01 289H183.01M179.01 293.49H183.01" stroke="#000000" stroke-width="0.8" fill="none"/>
<path d="M197.68 282.35V287.74M195.68 282.35H199.68M195.68 287.74H199.68" stroke="#000000" stroke-width="0.8" fill="none"/>
<path d="M208.8 278.94V286.12M206.8 278.94H210.8M206.8 286.12H210.8" stroke="#000000" stroke-width="0.8" fill="none"/>
<rect x="50.85" y="321.42" width="4.7" height="4.7" fill="#000000"/>
<rect x="61.96" y="319.98" width="4.7" height="4.7" fill="#000000"/>
<rect x="78.64" y="317.2" width="4.7" height="4.7" fill="#000000"/>
<rect x="89.75" y="314.68" width="4.7" height="4.7" fill="#000000"/>
<rect x="100.86" y="312.17" width="4.7" height="4.7" fill="#000000"/>
<rect x="117.53" y="308.12" width="4.7" height="4.7" fill="#000000"/>
<rect x="128.65" y="305.7" width="4.7" height="4.7" fill="#000000"/>
<rect x="139.76" y="302.19" width="4.7" height="4.7" fill="#000000"/>
<rect x="156.43" y="297.16" width="4.7" height="4.7" fill="#000000"/>
<rect x="167.55" y="293.21" width="4.7" height="4.7" fill="#000000"/>
<rect x="178.66" y="288.9" width="4.7" height="4.7" fill="#000000"/>
<rect x="195.33" y="282.7" width="4.7" height="4.7" fill="#000000"/>
<rect x="206.45" y="280.18" width="4.7" height="4.7" fill="#000000"/>
<path d="M222.5 331.3L222.5 328.6M222.5 331.3L225.07 330.47M222.5 331.3L224.09 333.48M222.5 331.3L220.91 333.48M222.5 331.3L219.93 330.47" stroke="#000" stroke-width="1.3" fill="none" stroke-linecap="butt"/>
<path d="M229 331.3L229 328.6M229 331.3L231.57 330.47M229 331.3L230.59 333.48M229 331.3L227.41 333.48M229 331.3L226.43 330.47" stroke="#000" stroke-width="1.3" fill="none" stroke-linecap="butt"/>
<path d="M235.6 331.3L235.6 328.6M235.6 331.3L238.17 330.47M235.6 331.3L237.19 333.48M235.6 331.3L234.01 333.48M235.6 331.3L233.03 330.47" stroke="#000" stroke-width="1.3" fill="none" stroke-linecap="butt"/>
<path d="M242.3 331.3L242.3 328.6M242.3 331.3L244.87 330.47M242.3 331.3L243.89 333.48M242.3 331.3L240.71 333.48M242.3 331.3L239.73 330.47" stroke="#000" stroke-width="1.3" fill="none" stroke-linecap="butt"/>
<path d="M222.5 338.75L222.5 336.05M222.5 338.75L225.07 337.92M222.5 338.75L224.09 340.93M222.5 338.75L220.91 340.93M222.5 338.75L219.93 337.92" stroke="#000" stroke-width="1.3" fill="none" stroke-linecap="butt"/>
<path d="M229 338.75L229 336.05M229 338.75L231.57 337.92M229 338.75L230.59 340.93M229 338.75L227.41 340.93M229 338.75L226.43 337.92" stroke="#000" stroke-width="1.3" fill="none" stroke-linecap="butt"/>
<path d="M235.6 338.75L235.6 336.05M235.6 338.75L238.17 337.92M235.6 338.75L237.19 340.93M235.6 338.75L234.01 340.93M235.6 338.75L233.03 337.92" stroke="#000" stroke-width="1.3" fill="none" stroke-linecap="butt"/>
<path d="M242.3 338.75L242.3 336.05M242.3 338.75L244.87 337.92M242.3 338.75L243.89 340.93M242.3 338.75L240.71 340.93M242.3 338.75L239.73 337.92" stroke="#000" stroke-width="1.3" fill="none" stroke-linecap="butt"/>
<text x="272.3" y="204.1" font-size="18" font-weight="bold" textLength="12.2" lengthAdjust="spacingAndGlyphs">D</text>
<line x1="347.3" y1="200.4" x2="361.2" y2="200.4" stroke="#000000" stroke-width="0.9"/>
<rect x="351.75" y="197.9" width="5" height="5" fill="#000000"/>
<text x="368.2" y="204.1" font-size="11.3" textLength="77.8" lengthAdjust="spacingAndGlyphs" stroke="#000" stroke-width="0.22">Vehicle, i.v, qw</text>
<line x1="347.3" y1="213.1" x2="361.2" y2="213.1" stroke="#1fa6d0" stroke-width="0.9"/>
<circle cx="354.25" cy="213.1" r="2.5" fill="#1fa6d0"/>
<text x="368.2" y="217.8" font-size="11.3" textLength="87" lengthAdjust="spacingAndGlyphs" stroke="#000" stroke-width="0.22">BT8009, 3 mg/kg</text>
<line x1="347.3" y1="225.8" x2="361.2" y2="225.8" stroke="#cf1c2e" stroke-width="0.9"/>
<path d="M354.25 223.3L356.75 225.8L354.25 228.3L351.75 225.8Z" fill="#cf1c2e"/>
<text x="368.2" y="229.4" font-size="11.3" textLength="71.5" lengthAdjust="spacingAndGlyphs" stroke="#000" stroke-width="0.22">ADC, 5 mg/kg</text>
<line x1="341.1" y1="224.25" x2="341.1" y2="343.15" stroke="#000" stroke-width="1.3"/>
<line x1="337.6" y1="342.5" x2="515.07" y2="342.5" stroke="#000" stroke-width="1.3"/>
<path d="M337.6 342.5H341.1M337.6 322.9H341.1M337.6 303.3H341.1M337.6 283.7H341.1M337.6 264.1H341.1M337.6 244.5H341.1M337.6 224.9H341.1" stroke="#000" stroke-width="1.3"/>
<path d="M339.1 332.7H341.1M339.1 313.1H341.1M339.1 293.5H341.1M339.1 273.9H341.1M339.1 254.3H341.1M339.1 234.7H341.1M343.58 342.5V344.5M346.05 342.5V344.5M348.53 342.5V344.5M351 342.5V344.5M353.48 342.5V344.5M355.96 342.5V344.5M360.91 342.5V344.5M363.38 342.5V344.5M365.86 342.5V344.5M368.34 342.5V344.5M370.81 342.5V344.5M373.29 342.5V344.5M378.24 342.5V344.5M380.72 342.5V344.5M383.19 342.5V344.5M385.67 342.5V344.5M388.14 342.5V344.5M390.62 342.5V344.5M395.57 342.5V344.5M398.05 342.5V344.5M400.52 342.5V344.5M403 342.5V344.5M405.48 342.5V344.5M407.95 342.5V344.5M412.9 342.5V344.5M415.38 342.5V344.5M417.86 342.5V344.5M420.33 342.5V344.5M422.81 342.5V344.5M425.28 342.5V344.5M430.24 342.5V344.5M432.71 342.5V344.5M435.19 342.5V344.5M437.66 342.5V344.5M440.14 342.5V344.5M442.62 342.5V344.5M447.57 342.5V344.5M450.04 342.5V344.5M452.52 342.5V344.5M455 342.5V344.5M457.47 342.5V344.5M459.95 342.5V344.5M464.9 342.5V344.5M467.38 342.5V344.5M469.85 342.5V344.5M472.33 342.5V344.5M474.8 342.5V344.5M477.28 342.5V344.5M482.23 342.5V344.5M484.71 342.5V344.5M487.18 342.5V344.5M489.66 342.5V344.5M492.14 342.5V344.5M494.61 342.5V344.5M499.56 342.5V344.5M502.04 342.5V344.5M504.52 342.5V344.5M506.99 342.5V344.5M509.47 342.5V344.5M511.94 342.5V344.5" stroke="#000" stroke-width="1.1"/>
<path d="M341.1 342.5V346M358.43 342.5V346M375.76 342.5V346M393.1 342.5V346M410.43 342.5V346M427.76 342.5V346M445.09 342.5V346M462.42 342.5V346M479.76 342.5V346M497.09 342.5V346M514.42 342.5V346" stroke="#000" stroke-width="1.3"/>
<text x="334.9" y="345.7" font-size="8.9" font-weight="bold" text-anchor="end" textLength="5" lengthAdjust="spacingAndGlyphs" stroke="#000" stroke-width="0.2">0</text>
<text x="334.9" y="326.1" font-size="8.9" font-weight="bold" text-anchor="end" textLength="15" lengthAdjust="spacingAndGlyphs" stroke="#000" stroke-width="0.2">200</text>
<text x="334.9" y="306.5" font-size="8.9" font-weight="bold" text-anchor="end" textLength="15" lengthAdjust="spacingAndGlyphs" stroke="#000" stroke-width="0.2">400</text>
<text x="334.9" y="286.9" font-size="8.9" font-weight="bold" text-anchor="end" textLength="15" lengthAdjust="spacingAndGlyphs" stroke="#000" stroke-width="0.2">600</text>
<text x="334.9" y="267.3" font-size="8.9" font-weight="bold" text-anchor="end" textLength="15" lengthAdjust="spacingAndGlyphs" stroke="#000" stroke-width="0.2">800</text>
<text x="334.9" y="247.7" font-size="8.9" font-weight="bold" text-anchor="end" textLength="22.4" lengthAdjust="spacingAndGlyphs" stroke="#000" stroke-width="0.2">1,000</text>
<text x="334.9" y="228.1" font-size="8.9" font-weight="bold" text-anchor="end" textLength="22.4" lengthAdjust="spacingAndGlyphs" stroke="#000" stroke-width="0.2">1,200</text>
<text x="341.1" y="357.4" font-size="9" font-weight="bold" text-anchor="middle" textLength="4.7" lengthAdjust="spacingAndGlyphs" stroke="#000" stroke-width="0.2">0</text>
<text x="358.43" y="357.4" font-size="9" font-weight="bold" text-anchor="middle" textLength="4.7" lengthAdjust="spacingAndGlyphs" stroke="#000" stroke-width="0.2">7</text>
<text x="375.76" y="357.4" font-size="9" font-weight="bold" text-anchor="middle" textLength="9.4" lengthAdjust="spacingAndGlyphs" stroke="#000" stroke-width="0.2">14</text>
<text x="393.1" y="357.4" font-size="9" font-weight="bold" text-anchor="middle" textLength="9.4" lengthAdjust="spacingAndGlyphs" stroke="#000" stroke-width="0.2">21</text>
<text x="410.43" y="357.4" font-size="9" font-weight="bold" text-anchor="middle" textLength="9.4" lengthAdjust="spacingAndGlyphs" stroke="#000" stroke-width="0.2">28</text>
<text x="427.76" y="357.4" font-size="9" font-weight="bold" text-anchor="middle" textLength="9.4" lengthAdjust="spacingAndGlyphs" stroke="#000" stroke-width="0.2">35</text>
<text x="445.09" y="357.4" font-size="9" font-weight="bold" text-anchor="middle" textLength="9.4" lengthAdjust="spacingAndGlyphs" stroke="#000" stroke-width="0.2">42</text>
<text x="462.42" y="357.4" font-size="9" font-weight="bold" text-anchor="middle" textLength="9.4" lengthAdjust="spacingAndGlyphs" stroke="#000" stroke-width="0.2">49</text>
<text x="479.76" y="357.4" font-size="9" font-weight="bold" text-anchor="middle" textLength="9.4" lengthAdjust="spacingAndGlyphs" stroke="#000" stroke-width="0.2">56</text>
<text x="497.09" y="357.4" font-size="9" font-weight="bold" text-anchor="middle" textLength="9.4" lengthAdjust="spacingAndGlyphs" stroke="#000" stroke-width="0.2">63</text>
<text x="514.42" y="357.4" font-size="9" font-weight="bold" text-anchor="middle" textLength="9.4" lengthAdjust="spacingAndGlyphs" stroke="#000" stroke-width="0.2">70</text>
<polyline fill="none" stroke="#000" stroke-width="1" points="339.4,363.2 341.1,360.6 342.8,363.2" stroke-linejoin="miter"/>
<polyline fill="none" stroke="#000" stroke-width="1" points="356.73,363.2 358.43,360.6 360.13,363.2" stroke-linejoin="miter"/>
<polyline fill="none" stroke="#000" stroke-width="1" points="374.06,363.2 375.76,360.6 377.46,363.2" stroke-linejoin="miter"/>
<polyline fill="none" stroke="#000" stroke-width="1" points="391.4,363.2 393.1,360.6 394.8,363.2" stroke-linejoin="miter"/>
<polyline fill="none" stroke="#000" stroke-width="1" points="408.73,363.2 410.43,360.6 412.13,363.2" stroke-linejoin="miter"/>
<polyline fill="none" stroke="#000" stroke-width="1" points="426.06,363.2 427.76,360.6 429.46,363.2" stroke-linejoin="miter"/>
<text x="373.6" y="376.4" font-size="9.4" font-weight="bold" textLength="111" lengthAdjust="spacingAndGlyphs" stroke="#000" stroke-width="0.2">Day after start of dosing</text>
<text x="303.5" y="342.7" font-size="10.5" font-weight="bold" textLength="116.8" lengthAdjust="spacingAndGlyphs" stroke="#000" stroke-width="0.2" transform="rotate(-90 303.5 342.7)">Tumor volume (mm<tspan font-size="8.4" dy="-3.47">3</tspan><tspan dy="3.47">)</tspan></text>
<polyline fill="none" stroke="#e04a58" stroke-width="0.9" points="341.1,323.98 351,325.84 358.43,329.96 368.34,334.95 375.76,337.5 385.67,339.95 393.1,340.34 403,340.74 410.43,341.03 420.33,340.54 427.76,339.46 437.66,337.01 445.09,335.54 455,332.01 462.42,328 472.33,322.51 479.76,317.51 489.66,314.47 497.09,310.45 506.99,306.24 514.42,299.48"/>
<path d="M351 322.9V328.78M349 322.9H353M349 328.78H353" stroke="#b85a64" stroke-width="0.8" fill="none"/>
<path d="M358.43 328V331.92M356.43 328H360.43M356.43 331.92H360.43" stroke="#b85a64" stroke-width="0.8" fill="none"/>
<path d="M368.34 333.97V335.93M366.34 333.97H370.34M366.34 335.93H370.34" stroke="#b85a64" stroke-width="0.8" fill="none"/>
<path d="M420.33 339.56V341.52M418.33 339.56H422.33M418.33 341.52H422.33" stroke="#b85a64" stroke-width="0.8" fill="none"/>
<path d="M427.76 337.99V340.93M425.76 337.99H429.76M425.76 340.93H429.76" stroke="#b85a64" stroke-width="0.8" fill="none"/>
<path d="M437.66 335.05V338.97M435.66 335.05H439.66M435.66 338.97H439.66" stroke="#b85a64" stroke-width="0.8" fill="none"/>
<path d="M445.09 330.64V340.44M443.09 330.64H447.09M443.09 340.44H447.09" stroke="#b85a64" stroke-width="0.8" fill="none"/>
<path d="M455 326.13V337.89M453 326.13H457M453 337.89H457" stroke="#b85a64" stroke-width="0.8" fill="none"/>
<path d="M462.42 321.14V334.86M460.42 321.14H464.42M460.42 334.86H464.42" stroke="#b85a64" stroke-width="0.8" fill="none"/>
<path d="M472.33 311.73V333.29M470.33 311.73H474.33M470.33 333.29H474.33" stroke="#b85a64" stroke-width="0.8" fill="none"/>
<path d="M479.76 304.77V330.25M477.76 304.77H481.76M477.76 330.25H481.76" stroke="#b85a64" stroke-width="0.8" fill="none"/>
<path d="M489.66 299.77V329.17M487.66 299.77H491.66M487.66 329.17H491.66" stroke="#b85a64" stroke-width="0.8" fill="none"/>
<path d="M497.09 293.79V327.11M495.09 293.79H499.09M495.09 327.11H499.09" stroke="#b85a64" stroke-width="0.8" fill="none"/>
<path d="M506.99 287.13V325.35M504.99 287.13H508.99M504.99 325.35H508.99" stroke="#b85a64" stroke-width="0.8" fill="none"/>
<path d="M514.42 276.94V322.02M512.42 276.94H516.42M512.42 322.02H516.42" stroke="#b85a64" stroke-width="0.8" fill="none"/>
<path d="M341.1 321.48L343.6 323.98L341.1 326.48L338.6 323.98Z" fill="#cf1c2e"/>
<path d="M351 323.34L353.5 325.84L351 328.34L348.5 325.84Z" fill="#cf1c2e"/>
<path d="M358.43 327.46L360.93 329.96L358.43 332.46L355.93 329.96Z" fill="#cf1c2e"/>
<path d="M368.34 332.45L370.84 334.95L368.34 337.45L365.84 334.95Z" fill="#cf1c2e"/>
<path d="M375.76 335L378.26 337.5L375.76 340L373.26 337.5Z" fill="#cf1c2e"/>
<path d="M385.67 337.45L388.17 339.95L385.67 342.45L383.17 339.95Z" fill="#cf1c2e"/>
<path d="M393.1 337.84L395.6 340.34L393.1 342.84L390.6 340.34Z" fill="#cf1c2e"/>
<path d="M403 338.24L405.5 340.74L403 343.24L400.5 340.74Z" fill="#cf1c2e"/>
<path d="M410.43 338.53L412.93 341.03L410.43 343.53L407.93 341.03Z" fill="#cf1c2e"/>
<path d="M420.33 338.04L422.83 340.54L420.33 343.04L417.83 340.54Z" fill="#cf1c2e"/>
<path d="M427.76 336.96L430.26 339.46L427.76 341.96L425.26 339.46Z" fill="#cf1c2e"/>
<path d="M437.66 334.51L440.16 337.01L437.66 339.51L435.16 337.01Z" fill="#cf1c2e"/>
<path d="M445.09 333.04L447.59 335.54L445.09 338.04L442.59 335.54Z" fill="#cf1c2e"/>
<path d="M455 329.51L457.5 332.01L455 334.51L452.5 332.01Z" fill="#cf1c2e"/>
<path d="M462.42 325.5L464.92 328L462.42 330.5L459.92 328Z" fill="#cf1c2e"/>
<path d="M472.33 320.01L474.83 322.51L472.33 325.01L469.83 322.51Z" fill="#cf1c2e"/>
<path d="M479.76 315.01L482.26 317.51L479.76 320.01L477.26 317.51Z" fill="#cf1c2e"/>
<path d="M489.66 311.97L492.16 314.47L489.66 316.97L487.16 314.47Z" fill="#cf1c2e"/>
<path d="M497.09 307.95L499.59 310.45L497.09 312.95L494.59 310.45Z" fill="#cf1c2e"/>
<path d="M506.99 303.74L509.49 306.24L506.99 308.74L504.49 306.24Z" fill="#cf1c2e"/>
<path d="M514.42 296.98L516.92 299.48L514.42 301.98L511.92 299.48Z" fill="#cf1c2e"/>
<polyline fill="none" stroke="#4cbde4" stroke-width="0.9" points="341.1,323.98 351,324.96 358.43,327.51 368.34,334.46 375.76,337.5 385.67,339.95 393.1,340.54 403,341.03 410.43,341.03 420.33,341.32 427.76,341.52 437.66,341.52 445.09,341.52 455,341.52 462.42,341.52 472.33,341.52 479.76,341.52 489.66,341.52 497.09,341.52 506.99,341.52 514.42,341.52"/>
<path d="M351 320.06V329.86M349 320.06H353M349 329.86H353" stroke="#5aa8c8" stroke-width="0.8" fill="none"/>
<circle cx="341.1" cy="323.98" r="2.75" fill="#1fa6d0"/>
<circle cx="351" cy="324.96" r="2.75" fill="#1fa6d0"/>
<circle cx="358.43" cy="327.51" r="2.75" fill="#1fa6d0"/>
<circle cx="368.34" cy="334.46" r="2.75" fill="#1fa6d0"/>
<circle cx="375.76" cy="337.5" r="2.75" fill="#1fa6d0"/>
<circle cx="385.67" cy="339.95" r="2.75" fill="#1fa6d0"/>
<circle cx="393.1" cy="340.54" r="2.75" fill="#1fa6d0"/>
<circle cx="403" cy="341.03" r="2.75" fill="#1fa6d0"/>
<circle cx="410.43" cy="341.03" r="2.75" fill="#1fa6d0"/>
<circle cx="420.33" cy="341.32" r="2.75" fill="#1fa6d0"/>
<circle cx="427.76" cy="341.52" r="2.75" fill="#1fa6d0"/>
<circle cx="437.66" cy="341.52" r="2.75" fill="#1fa6d0"/>
<circle cx="445.09" cy="341.52" r="2.75" fill="#1fa6d0"/>
<circle cx="455" cy="341.52" r="2.75" fill="#1fa6d0"/>
<circle cx="462.42" cy="341.52" r="2.75" fill="#1fa6d0"/>
<circle cx="472.33" cy="341.52" r="2.75" fill="#1fa6d0"/>
<circle cx="479.76" cy="341.52" r="2.75" fill="#1fa6d0"/>
<circle cx="489.66" cy="341.52" r="2.75" fill="#1fa6d0"/>
<circle cx="497.09" cy="341.52" r="2.75" fill="#1fa6d0"/>
<circle cx="506.99" cy="341.52" r="2.75" fill="#1fa6d0"/>
<circle cx="514.42" cy="341.52" r="2.75" fill="#1fa6d0"/>
<polyline fill="none" stroke="#000000" stroke-width="0.9" points="341.1,323.98 351,318 358.43,311.24 368.34,302.52 375.76,299.97 385.67,281.25 393.1,268.51 403,259.3 410.43,248.22"/>
<path d="M351 316.53V319.47M349 316.53H353M349 319.47H353" stroke="#000000" stroke-width="0.8" fill="none"/>
<path d="M358.43 309.77V312.71M356.43 309.77H360.43M356.43 312.71H360.43" stroke="#000000" stroke-width="0.8" fill="none"/>
<path d="M375.76 297.03V302.91M373.76 297.03H377.76M373.76 302.91H377.76" stroke="#000000" stroke-width="0.8" fill="none"/>
<path d="M385.67 276.15V286.35M383.67 276.15H387.67M383.67 286.35H387.67" stroke="#000000" stroke-width="0.8" fill="none"/>
<path d="M393.1 262.04V274.98M391.1 262.04H395.1M391.1 274.98H395.1" stroke="#000000" stroke-width="0.8" fill="none"/>
<path d="M403 253.42V265.18M401 253.42H405M401 265.18H405" stroke="#000000" stroke-width="0.8" fill="none"/>
<path d="M410.43 240.78V255.67M408.43 240.78H412.43M408.43 255.67H412.43" stroke="#000000" stroke-width="0.8" fill="none"/>
<rect x="338.35" y="321.23" width="5.5" height="5.5" fill="#000000"/>
<rect x="348.25" y="315.25" width="5.5" height="5.5" fill="#000000"/>
<rect x="355.68" y="308.49" width="5.5" height="5.5" fill="#000000"/>
<rect x="365.59" y="299.77" width="5.5" height="5.5" fill="#000000"/>
<rect x="373.01" y="297.22" width="5.5" height="5.5" fill="#000000"/>
<rect x="382.92" y="278.5" width="5.5" height="5.5" fill="#000000"/>
<rect x="390.35" y="265.76" width="5.5" height="5.5" fill="#000000"/>
<rect x="400.25" y="256.55" width="5.5" height="5.5" fill="#000000"/>
<rect x="407.68" y="245.47" width="5.5" height="5.5" fill="#000000"/>
<text x="142.4" y="412.6" font-size="17.6" font-weight="bold" textLength="10.2" lengthAdjust="spacingAndGlyphs">E</text>
<line x1="200.3" y1="408.9" x2="211.9" y2="408.9" stroke="#000000" stroke-width="0.9"/>
<rect x="204.1" y="406.9" width="4" height="4" fill="#000000"/>
<text x="217" y="412.6" font-size="10.5" textLength="70.5" lengthAdjust="spacingAndGlyphs" stroke="#000" stroke-width="0.22">Vehicle, i.v, qw</text>
<line x1="200.3" y1="419.5" x2="211.9" y2="419.5" stroke="#1fa6d0" stroke-width="0.9"/>
<circle cx="206.1" cy="419.5" r="2" fill="#1fa6d0"/>
<text x="217" y="422.9" font-size="10.5" textLength="77" lengthAdjust="spacingAndGlyphs" stroke="#000" stroke-width="0.22">BT8009 3 mg/kg</text>
<line x1="200.3" y1="430.7" x2="211.9" y2="430.7" stroke="#1d6fb3" stroke-width="0.9"/>
<circle cx="206.1" cy="430.7" r="2" fill="#1d6fb3"/>
<text x="217" y="434" font-size="10.5" textLength="77" lengthAdjust="spacingAndGlyphs" stroke="#000" stroke-width="0.22">BT8009 5 mg/kg</text>
<line x1="200.3" y1="442.3" x2="211.9" y2="442.3" stroke="#cf1c2e" stroke-width="0.9"/>
<path d="M206.1 440.3L208.1 442.3L206.1 444.3L204.1 442.3Z" fill="#cf1c2e"/>
<text x="217" y="446.1" font-size="10.5" textLength="78" lengthAdjust="spacingAndGlyphs" stroke="#000" stroke-width="0.22">ADC 5/10 mg/kg</text>
<line x1="192.7" y1="441.55" x2="192.7" y2="548.35" stroke="#000" stroke-width="1.3"/>
<line x1="189.2" y1="547.7" x2="441.32" y2="547.7" stroke="#000" stroke-width="1.3"/>
<path d="M189.2 547.7H192.7M189.2 537.15H192.7M189.2 526.6H192.7M189.2 516.05H192.7M189.2 505.5H192.7M189.2 494.95H192.7M189.2 484.4H192.7M189.2 473.85H192.7M189.2 463.3H192.7M189.2 452.75H192.7M189.2 442.2H192.7" stroke="#000" stroke-width="1.3"/>
<path d="M190.7 542.43H192.7M190.7 531.88H192.7M190.7 521.33H192.7M190.7 510.78H192.7M190.7 500.23H192.7M190.7 489.68H192.7M190.7 479.13H192.7M190.7 468.58H192.7M190.7 458.03H192.7M190.7 447.48H192.7M195.65 547.7V549.7M198.6 547.7V549.7M201.56 547.7V549.7M204.51 547.7V549.7M207.46 547.7V549.7M210.41 547.7V549.7M216.32 547.7V549.7M219.27 547.7V549.7M222.22 547.7V549.7M225.17 547.7V549.7M228.12 547.7V549.7M231.08 547.7V549.7M236.98 547.7V549.7M239.93 547.7V549.7M242.88 547.7V549.7M245.84 547.7V549.7M248.79 547.7V549.7M251.74 547.7V549.7M257.64 547.7V549.7M260.6 547.7V549.7M263.55 547.7V549.7M266.5 547.7V549.7M269.45 547.7V549.7M272.4 547.7V549.7M278.31 547.7V549.7M281.26 547.7V549.7M284.21 547.7V549.7M287.16 547.7V549.7M290.12 547.7V549.7M293.07 547.7V549.7M298.97 547.7V549.7M301.92 547.7V549.7M304.88 547.7V549.7M307.83 547.7V549.7M310.78 547.7V549.7M313.73 547.7V549.7M319.64 547.7V549.7M322.59 547.7V549.7M325.54 547.7V549.7M328.49 547.7V549.7M331.44 547.7V549.7M334.4 547.7V549.7M340.3 547.7V549.7M343.25 547.7V549.7M346.2 547.7V549.7M349.16 547.7V549.7M352.11 547.7V549.7M355.06 547.7V549.7M360.96 547.7V549.7M363.92 547.7V549.7M366.87 547.7V549.7M369.82 547.7V549.7M372.77 547.7V549.7M375.72 547.7V549.7M381.63 547.7V549.7M384.58 547.7V549.7M387.53 547.7V549.7M390.48 547.7V549.7M393.44 547.7V549.7M396.39 547.7V549.7M402.29 547.7V549.7M405.24 547.7V549.7M408.2 547.7V549.7M411.15 547.7V549.7M414.1 547.7V549.7M417.05 547.7V549.7M422.96 547.7V549.7M425.91 547.7V549.7M428.86 547.7V549.7M431.81 547.7V549.7M434.76 547.7V549.7M437.72 547.7V549.7" stroke="#000" stroke-width="1.1"/>
<path d="M192.7 547.7V551.2M213.36 547.7V551.2M234.03 547.7V551.2M254.69 547.7V551.2M275.36 547.7V551.2M296.02 547.7V551.2M316.68 547.7V551.2M337.35 547.7V551.2M358.01 547.7V551.2M378.68 547.7V551.2M399.34 547.7V551.2M420 547.7V551.2M440.67 547.7V551.2" stroke="#000" stroke-width="1.3"/>
<text x="186.2" y="551.45" font-size="9.2" font-weight="bold" text-anchor="end" textLength="5.75" lengthAdjust="spacingAndGlyphs" stroke="#000" stroke-width="0.2">0</text>
<text x="186.2" y="540.9" font-size="9.2" font-weight="bold" text-anchor="end" textLength="17.25" lengthAdjust="spacingAndGlyphs" stroke="#000" stroke-width="0.2">200</text>
<text x="186.2" y="530.35" font-size="9.2" font-weight="bold" text-anchor="end" textLength="17.25" lengthAdjust="spacingAndGlyphs" stroke="#000" stroke-width="0.2">400</text>
<text x="186.2" y="519.8" font-size="9.2" font-weight="bold" text-anchor="end" textLength="17.25" lengthAdjust="spacingAndGlyphs" stroke="#000" stroke-width="0.2">600</text>
<text x="186.2" y="509.25" font-size="9.2" font-weight="bold" text-anchor="end" textLength="17.25" lengthAdjust="spacingAndGlyphs" stroke="#000" stroke-width="0.2">800</text>
<text x="186.2" y="498.7" font-size="9.2" font-weight="bold" text-anchor="end" textLength="25.8" lengthAdjust="spacingAndGlyphs" stroke="#000" stroke-width="0.2">1,000</text>
<text x="186.2" y="488.15" font-size="9.2" font-weight="bold" text-anchor="end" textLength="25.8" lengthAdjust="spacingAndGlyphs" stroke="#000" stroke-width="0.2">1,200</text>
<text x="186.2" y="477.6" font-size="9.2" font-weight="bold" text-anchor="end" textLength="25.8" lengthAdjust="spacingAndGlyphs" stroke="#000" stroke-width="0.2">1,400</text>
<text x="186.2" y="467.05" font-size="9.2" font-weight="bold" text-anchor="end" textLength="25.8" lengthAdjust="spacingAndGlyphs" stroke="#000" stroke-width="0.2">1,600</text>
<text x="186.2" y="456.5" font-size="9.2" font-weight="bold" text-anchor="end" textLength="25.8" lengthAdjust="spacingAndGlyphs" stroke="#000" stroke-width="0.2">1,800</text>
<text x="186.2" y="445.95" font-size="9.2" font-weight="bold" text-anchor="end" textLength="25.8" lengthAdjust="spacingAndGlyphs" stroke="#000" stroke-width="0.2">2,000</text>
<text x="192.7" y="565.2" font-size="9.6" font-weight="bold" text-anchor="middle" textLength="5.2" lengthAdjust="spacingAndGlyphs" stroke="#000" stroke-width="0.2">0</text>
<text x="213.36" y="565.2" font-size="9.6" font-weight="bold" text-anchor="middle" textLength="5.2" lengthAdjust="spacingAndGlyphs" stroke="#000" stroke-width="0.2">7</text>
<text x="234.03" y="565.2" font-size="9.6" font-weight="bold" text-anchor="middle" textLength="10.4" lengthAdjust="spacingAndGlyphs" stroke="#000" stroke-width="0.2">14</text>
<text x="254.69" y="565.2" font-size="9.6" font-weight="bold" text-anchor="middle" textLength="10.4" lengthAdjust="spacingAndGlyphs" stroke="#000" stroke-width="0.2">21</text>
<text x="275.36" y="565.2" font-size="9.6" font-weight="bold" text-anchor="middle" textLength="10.4" lengthAdjust="spacingAndGlyphs" stroke="#000" stroke-width="0.2">28</text>
<text x="296.02" y="565.2" font-size="9.6" font-weight="bold" text-anchor="middle" textLength="10.4" lengthAdjust="spacingAndGlyphs" stroke="#000" stroke-width="0.2">35</text>
<text x="316.68" y="565.2" font-size="9.6" font-weight="bold" text-anchor="middle" textLength="10.4" lengthAdjust="spacingAndGlyphs" stroke="#000" stroke-width="0.2">42</text>
<text x="337.35" y="565.2" font-size="9.6" font-weight="bold" text-anchor="middle" textLength="10.4" lengthAdjust="spacingAndGlyphs" stroke="#000" stroke-width="0.2">49</text>
<text x="358.01" y="565.2" font-size="9.6" font-weight="bold" text-anchor="middle" textLength="10.4" lengthAdjust="spacingAndGlyphs" stroke="#000" stroke-width="0.2">56</text>
<text x="378.68" y="565.2" font-size="9.6" font-weight="bold" text-anchor="middle" textLength="10.4" lengthAdjust="spacingAndGlyphs" stroke="#000" stroke-width="0.2">63</text>
<text x="399.34" y="565.2" font-size="9.6" font-weight="bold" text-anchor="middle" textLength="10.4" lengthAdjust="spacingAndGlyphs" stroke="#000" stroke-width="0.2">70</text>
<text x="420" y="565.2" font-size="9.6" font-weight="bold" text-anchor="middle" textLength="10.4" lengthAdjust="spacingAndGlyphs" stroke="#000" stroke-width="0.2">77</text>
<text x="440.67" y="565.2" font-size="9.6" font-weight="bold" text-anchor="middle" textLength="10.4" lengthAdjust="spacingAndGlyphs" stroke="#000" stroke-width="0.2">84</text>
<polyline fill="none" stroke="#000" stroke-width="1.1" points="190.4,574.6 192.7,571.2 195,574.6" stroke-linejoin="miter"/>
<polyline fill="none" stroke="#000" stroke-width="1.1" points="211.06,574.6 213.36,571.2 215.66,574.6" stroke-linejoin="miter"/>
<polyline fill="none" stroke="#000" stroke-width="1.1" points="231.73,574.6 234.03,571.2 236.33,574.6" stroke-linejoin="miter"/>
<polyline fill="none" stroke="#000" stroke-width="1.1" points="252.39,574.6 254.69,571.2 256.99,574.6" stroke-linejoin="miter"/>
<polyline fill="none" stroke="#000" stroke-width="1.1" points="278.96,574.6 281.26,571.2 283.56,574.6" stroke-linejoin="miter"/>
<polyline fill="none" stroke="#000" stroke-width="1.1" points="299.62,574.6 301.92,571.2 304.22,574.6" stroke-linejoin="miter"/>
<polyline fill="none" stroke="#000" stroke-width="1.1" points="320.29,574.6 322.59,571.2 324.89,574.6" stroke-linejoin="miter"/>
<polyline fill="none" stroke="#000" stroke-width="1.1" points="340.95,574.6 343.25,571.2 345.55,574.6" stroke-linejoin="miter"/>
<polyline fill="none" stroke="#000" stroke-width="1.1" points="361.62,574.6 363.92,571.2 366.22,574.6" stroke-linejoin="miter"/>
<polyline fill="none" stroke="#000" stroke-width="1.1" points="382.28,574.6 384.58,571.2 386.88,574.6" stroke-linejoin="miter"/>
<polyline fill="none" stroke="#000" stroke-width="1.1" points="402.94,574.6 405.24,571.2 407.54,574.6" stroke-linejoin="miter"/>
<polyline fill="none" stroke="#000" stroke-width="1.1" points="417.7,574.6 420,571.2 422.3,574.6" stroke-linejoin="miter"/>
<text x="266.6" y="590.2" font-size="8.1" font-weight="bold" textLength="99.5" lengthAdjust="spacingAndGlyphs" stroke="#000" stroke-width="0.2">Day after start of dosing</text>
<text x="150.5" y="546.8" font-size="10.3" font-weight="bold" textLength="106.9" lengthAdjust="spacingAndGlyphs" stroke="#000" stroke-width="0.2" transform="rotate(-90 150.5 546.8)">Tumor volume (mm<tspan font-size="8.24" dy="-3.4">3</tspan><tspan dy="3.4">)</tspan></text>
<polyline fill="none" stroke="#4cbde4" stroke-width="0.9" points="192.7,539.26 201.56,536.52 213.36,537.99 222.22,539.42 234.03,539.58 242.88,539.21 254.69,539.58 263.55,538.1 275.36,538.1"/>
<circle cx="192.7" cy="539.26" r="2.3" fill="#1fa6d0"/>
<circle cx="201.56" cy="536.52" r="2.3" fill="#1fa6d0"/>
<circle cx="213.36" cy="537.99" r="2.3" fill="#1fa6d0"/>
<circle cx="222.22" cy="539.42" r="2.3" fill="#1fa6d0"/>
<circle cx="234.03" cy="539.58" r="2.3" fill="#1fa6d0"/>
<circle cx="242.88" cy="539.21" r="2.3" fill="#1fa6d0"/>
<circle cx="254.69" cy="539.58" r="2.3" fill="#1fa6d0"/>
<circle cx="263.55" cy="538.1" r="2.3" fill="#1fa6d0"/>
<circle cx="275.36" cy="538.1" r="2.3" fill="#1fa6d0"/>
<polyline fill="none" stroke="#3a7fbd" stroke-width="0.9" points="284.21,538.1 296.02,538.52 304.88,538.79 316.68,539.42 325.54,539.79 337.35,540.79 346.2,541.9 358.01,542.11 366.87,542.9 378.68,544.01 387.53,544.43 399.34,544.01 408.2,545.22 420,545.22 428.86,545.22 440.67,545.22"/>
<circle cx="284.21" cy="538.1" r="2.3" fill="#1d6fb3"/>
<circle cx="296.02" cy="538.52" r="2.3" fill="#1d6fb3"/>
<circle cx="304.88" cy="538.79" r="2.3" fill="#1d6fb3"/>
<circle cx="316.68" cy="539.42" r="2.3" fill="#1d6fb3"/>
<circle cx="325.54" cy="539.79" r="2.3" fill="#1d6fb3"/>
<circle cx="337.35" cy="540.79" r="2.3" fill="#1d6fb3"/>
<circle cx="346.2" cy="541.9" r="2.3" fill="#1d6fb3"/>
<circle cx="358.01" cy="542.11" r="2.3" fill="#1d6fb3"/>
<circle cx="366.87" cy="542.9" r="2.3" fill="#1d6fb3"/>
<circle cx="378.68" cy="544.01" r="2.3" fill="#1d6fb3"/>
<circle cx="387.53" cy="544.43" r="2.3" fill="#1d6fb3"/>
<circle cx="399.34" cy="544.01" r="2.3" fill="#1d6fb3"/>
<circle cx="408.2" cy="545.22" r="2.3" fill="#1d6fb3"/>
<circle cx="420" cy="545.22" r="2.3" fill="#1d6fb3"/>
<circle cx="428.86" cy="545.22" r="2.3" fill="#1d6fb3"/>
<circle cx="440.67" cy="545.22" r="2.3" fill="#1d6fb3"/>
<polyline fill="none" stroke="#4cbde4" stroke-width="0.9" points="284.21,485.46 296.02,484.82 304.88,481.18 316.68,492.52 325.54,495.79 337.35,495 346.2,496.9"/>
<path d="M296.02 479.81V489.83M294.02 479.81H298.02M294.02 489.83H298.02" stroke="#5aa8c8" stroke-width="0.8" fill="none"/>
<path d="M304.88 473.53V488.83M302.88 473.53H306.88M302.88 488.83H306.88" stroke="#5aa8c8" stroke-width="0.8" fill="none"/>
<path d="M316.68 479.07V505.97M314.68 479.07H318.68M314.68 505.97H318.68" stroke="#5aa8c8" stroke-width="0.8" fill="none"/>
<path d="M325.54 479.97V511.62M323.54 479.97H327.54M323.54 511.62H327.54" stroke="#5aa8c8" stroke-width="0.8" fill="none"/>
<path d="M337.35 479.44V510.56M335.35 479.44H339.35M335.35 510.56H339.35" stroke="#5aa8c8" stroke-width="0.8" fill="none"/>
<path d="M346.2 484.51V509.3M344.2 484.51H348.2M344.2 509.3H348.2" stroke="#5aa8c8" stroke-width="0.8" fill="none"/>
<circle cx="284.21" cy="485.46" r="2.3" fill="#1fa6d0"/>
<circle cx="296.02" cy="484.82" r="2.3" fill="#1fa6d0"/>
<circle cx="304.88" cy="481.18" r="2.3" fill="#1fa6d0"/>
<circle cx="316.68" cy="492.52" r="2.3" fill="#1fa6d0"/>
<circle cx="325.54" cy="495.79" r="2.3" fill="#1fa6d0"/>
<circle cx="337.35" cy="495" r="2.3" fill="#1fa6d0"/>
<circle cx="346.2" cy="496.9" r="2.3" fill="#1fa6d0"/>
<polyline fill="none" stroke="#4cbde4" stroke-width="0.9" points="284.21,495.58 296.02,498.96 304.88,503.07 316.68,503.07 325.54,504.39 337.35,505.55 346.2,505.55 358.01,510.19"/>
<path d="M284.21 488.09V503.07M282.21 488.09H286.21M282.21 503.07H286.21" stroke="#5aa8c8" stroke-width="0.8" fill="none"/>
<path d="M296.02 491.05V506.87M294.02 491.05H298.02M294.02 506.87H298.02" stroke="#5aa8c8" stroke-width="0.8" fill="none"/>
<path d="M304.88 495.16V510.99M302.88 495.16H306.88M302.88 510.99H306.88" stroke="#5aa8c8" stroke-width="0.8" fill="none"/>
<path d="M316.68 497.8V508.35M314.68 497.8H318.68M314.68 508.35H318.68" stroke="#5aa8c8" stroke-width="0.8" fill="none"/>
<path d="M325.54 498.06V510.72M323.54 498.06H327.54M323.54 510.72H327.54" stroke="#5aa8c8" stroke-width="0.8" fill="none"/>
<path d="M337.35 499.49V511.62M335.35 499.49H339.35M335.35 511.62H339.35" stroke="#5aa8c8" stroke-width="0.8" fill="none"/>
<path d="M346.2 498.17V512.94M344.2 498.17H348.2M344.2 512.94H348.2" stroke="#5aa8c8" stroke-width="0.8" fill="none"/>
<path d="M358.01 501.7V518.69M356.01 501.7H360.01M356.01 518.69H360.01" stroke="#5aa8c8" stroke-width="0.8" fill="none"/>
<circle cx="284.21" cy="495.58" r="2.3" fill="#1fa6d0"/>
<circle cx="296.02" cy="498.96" r="2.3" fill="#1fa6d0"/>
<circle cx="304.88" cy="503.07" r="2.3" fill="#1fa6d0"/>
<circle cx="316.68" cy="503.07" r="2.3" fill="#1fa6d0"/>
<circle cx="325.54" cy="504.39" r="2.3" fill="#1fa6d0"/>
<circle cx="337.35" cy="505.55" r="2.3" fill="#1fa6d0"/>
<circle cx="346.2" cy="505.55" r="2.3" fill="#1fa6d0"/>
<circle cx="358.01" cy="510.19" r="2.3" fill="#1fa6d0"/>
<polyline fill="none" stroke="#3a7fbd" stroke-width="0.9" points="358.01,496.9 366.87,505.08 378.68,517.69 387.53,521.11 399.34,530.71 408.2,533.99 420,534.2 428.86,533.09 440.67,540"/>
<path d="M358.01 483.5V510.3M356.01 483.5H360.01M356.01 510.3H360.01" stroke="#5a90bc" stroke-width="0.8" fill="none"/>
<path d="M366.87 494.69V515.47M364.87 494.69H368.87M364.87 515.47H368.87" stroke="#5a90bc" stroke-width="0.8" fill="none"/>
<path d="M378.68 511.36V524.02M376.68 511.36H380.68M376.68 524.02H380.68" stroke="#5a90bc" stroke-width="0.8" fill="none"/>
<path d="M387.53 514.26V527.97M385.53 514.26H389.53M385.53 527.97H389.53" stroke="#5a90bc" stroke-width="0.8" fill="none"/>
<path d="M399.34 523.86V537.57M397.34 523.86H401.34M397.34 537.57H401.34" stroke="#5a90bc" stroke-width="0.8" fill="none"/>
<path d="M408.2 528.18V539.79M406.2 528.18H410.2M406.2 539.79H410.2" stroke="#5a90bc" stroke-width="0.8" fill="none"/>
<path d="M420 527.34V541.05M418 527.34H422M418 541.05H422" stroke="#5a90bc" stroke-width="0.8" fill="none"/>
<path d="M428.86 526.23V539.95M426.86 526.23H430.86M426.86 539.95H430.86" stroke="#5a90bc" stroke-width="0.8" fill="none"/>
<path d="M440.67 537.1V542.9M438.67 537.1H442.67M438.67 542.9H442.67" stroke="#5a90bc" stroke-width="0.8" fill="none"/>
<circle cx="358.01" cy="496.9" r="2.3" fill="#1d6fb3"/>
<circle cx="366.87" cy="505.08" r="2.3" fill="#1d6fb3"/>
<circle cx="378.68" cy="517.69" r="2.3" fill="#1d6fb3"/>
<circle cx="387.53" cy="521.11" r="2.3" fill="#1d6fb3"/>
<circle cx="399.34" cy="530.71" r="2.3" fill="#1d6fb3"/>
<circle cx="408.2" cy="533.99" r="2.3" fill="#1d6fb3"/>
<circle cx="420" cy="534.2" r="2.3" fill="#1d6fb3"/>
<circle cx="428.86" cy="533.09" r="2.3" fill="#1d6fb3"/>
<circle cx="440.67" cy="540" r="2.3" fill="#1d6fb3"/>
<polyline fill="none" stroke="#3a7fbd" stroke-width="0.9" points="366.87,511.2 378.68,512.78 387.53,513.31 399.34,514.78 408.2,519.8 420,520.43 428.86,520.8 440.67,523.12"/>
<path d="M366.87 503.07V519.32M364.87 503.07H368.87M364.87 519.32H368.87" stroke="#5a90bc" stroke-width="0.8" fill="none"/>
<path d="M378.68 504.76V520.8M376.68 504.76H380.68M376.68 520.8H380.68" stroke="#5a90bc" stroke-width="0.8" fill="none"/>
<path d="M387.53 505.61V521.01M385.53 505.61H389.53M385.53 521.01H389.53" stroke="#5a90bc" stroke-width="0.8" fill="none"/>
<path d="M399.34 507.93V521.64M397.34 507.93H401.34M397.34 521.64H401.34" stroke="#5a90bc" stroke-width="0.8" fill="none"/>
<path d="M408.2 513.99V525.6M406.2 513.99H410.2M406.2 525.6H410.2" stroke="#5a90bc" stroke-width="0.8" fill="none"/>
<path d="M420 514.63V526.23M418 514.63H422M418 526.23H422" stroke="#5a90bc" stroke-width="0.8" fill="none"/>
<path d="M428.86 515V526.6M426.86 515H430.86M426.86 526.6H430.86" stroke="#5a90bc" stroke-width="0.8" fill="none"/>
<path d="M440.67 518.11V528.13M438.67 518.11H442.67M438.67 528.13H442.67" stroke="#5a90bc" stroke-width="0.8" fill="none"/>
<circle cx="366.87" cy="511.2" r="2.3" fill="#1d6fb3"/>
<circle cx="378.68" cy="512.78" r="2.3" fill="#1d6fb3"/>
<circle cx="387.53" cy="513.31" r="2.3" fill="#1d6fb3"/>
<circle cx="399.34" cy="514.78" r="2.3" fill="#1d6fb3"/>
<circle cx="408.2" cy="519.8" r="2.3" fill="#1d6fb3"/>
<circle cx="420" cy="520.43" r="2.3" fill="#1d6fb3"/>
<circle cx="428.86" cy="520.8" r="2.3" fill="#1d6fb3"/>
<circle cx="440.67" cy="523.12" r="2.3" fill="#1d6fb3"/>
<polyline fill="none" stroke="#e04a58" stroke-width="0.9" points="192.7,539.26 201.56,534.62 213.36,531.72 222.22,530.4 234.03,526.92 242.88,522.7 254.69,515.42 263.55,508.19 275.36,504.08"/>
<path d="M222.22 528.82V531.98M220.22 528.82H224.22M220.22 531.98H224.22" stroke="#b85a64" stroke-width="0.8" fill="none"/>
<path d="M234.03 524.81V529.03M232.03 524.81H236.03M232.03 529.03H236.03" stroke="#b85a64" stroke-width="0.8" fill="none"/>
<path d="M242.88 519.8V525.6M240.88 519.8H244.88M240.88 525.6H244.88" stroke="#b85a64" stroke-width="0.8" fill="none"/>
<path d="M254.69 511.46V519.37M252.69 511.46H256.69M252.69 519.37H256.69" stroke="#b85a64" stroke-width="0.8" fill="none"/>
<path d="M263.55 501.97V514.41M261.55 501.97H265.55M261.55 514.41H265.55" stroke="#b85a64" stroke-width="0.8" fill="none"/>
<path d="M275.36 497.38V510.78M273.36 497.38H277.36M273.36 510.78H277.36" stroke="#b85a64" stroke-width="0.8" fill="none"/>
<path d="M192.7 537.06L194.9 539.26L192.7 541.46L190.5 539.26Z" fill="#cf1c2e"/>
<path d="M201.56 532.42L203.76 534.62L201.56 536.82L199.36 534.62Z" fill="#cf1c2e"/>
<path d="M213.36 529.52L215.56 531.72L213.36 533.92L211.16 531.72Z" fill="#cf1c2e"/>
<path d="M222.22 528.2L224.42 530.4L222.22 532.6L220.02 530.4Z" fill="#cf1c2e"/>
<path d="M234.03 524.72L236.23 526.92L234.03 529.12L231.83 526.92Z" fill="#cf1c2e"/>
<path d="M242.88 520.5L245.08 522.7L242.88 524.9L240.68 522.7Z" fill="#cf1c2e"/>
<path d="M254.69 513.22L256.89 515.42L254.69 517.62L252.49 515.42Z" fill="#cf1c2e"/>
<path d="M263.55 505.99L265.75 508.19L263.55 510.39L261.35 508.19Z" fill="#cf1c2e"/>
<path d="M275.36 501.88L277.56 504.08L275.36 506.28L273.16 504.08Z" fill="#cf1c2e"/>
<polyline fill="none" stroke="#000000" stroke-width="0.9" points="192.7,539.26 201.56,534.62 213.36,531.72 222.22,527.92 234.03,523.49 242.88,517.53 254.69,508.93 263.55,499.33 275.36,491.63 284.21,481.13 296.02,472.43 304.88,462.51 316.68,451.54"/>
<path d="M284.21 477.23V485.03M282.21 477.23H286.21M282.21 485.03H286.21" stroke="#000000" stroke-width="0.8" fill="none"/>
<path d="M316.68 447.42V455.65M314.68 447.42H318.68M314.68 455.65H318.68" stroke="#000000" stroke-width="0.8" fill="none"/>
<rect x="190.4" y="536.96" width="4.6" height="4.6" fill="#000000"/>
<rect x="199.26" y="532.32" width="4.6" height="4.6" fill="#000000"/>
<rect x="211.06" y="529.42" width="4.6" height="4.6" fill="#000000"/>
<rect x="219.92" y="525.62" width="4.6" height="4.6" fill="#000000"/>
<rect x="231.73" y="521.19" width="4.6" height="4.6" fill="#000000"/>
<rect x="240.58" y="515.23" width="4.6" height="4.6" fill="#000000"/>
<rect x="252.39" y="506.63" width="4.6" height="4.6" fill="#000000"/>
<rect x="261.25" y="497.03" width="4.6" height="4.6" fill="#000000"/>
<rect x="273.06" y="489.33" width="4.6" height="4.6" fill="#000000"/>
<rect x="281.91" y="478.83" width="4.6" height="4.6" fill="#000000"/>
<rect x="293.72" y="470.13" width="4.6" height="4.6" fill="#000000"/>
<rect x="302.58" y="460.21" width="4.6" height="4.6" fill="#000000"/>
<rect x="314.38" y="449.24" width="4.6" height="4.6" fill="#000000"/>
</svg>
</body></html>
